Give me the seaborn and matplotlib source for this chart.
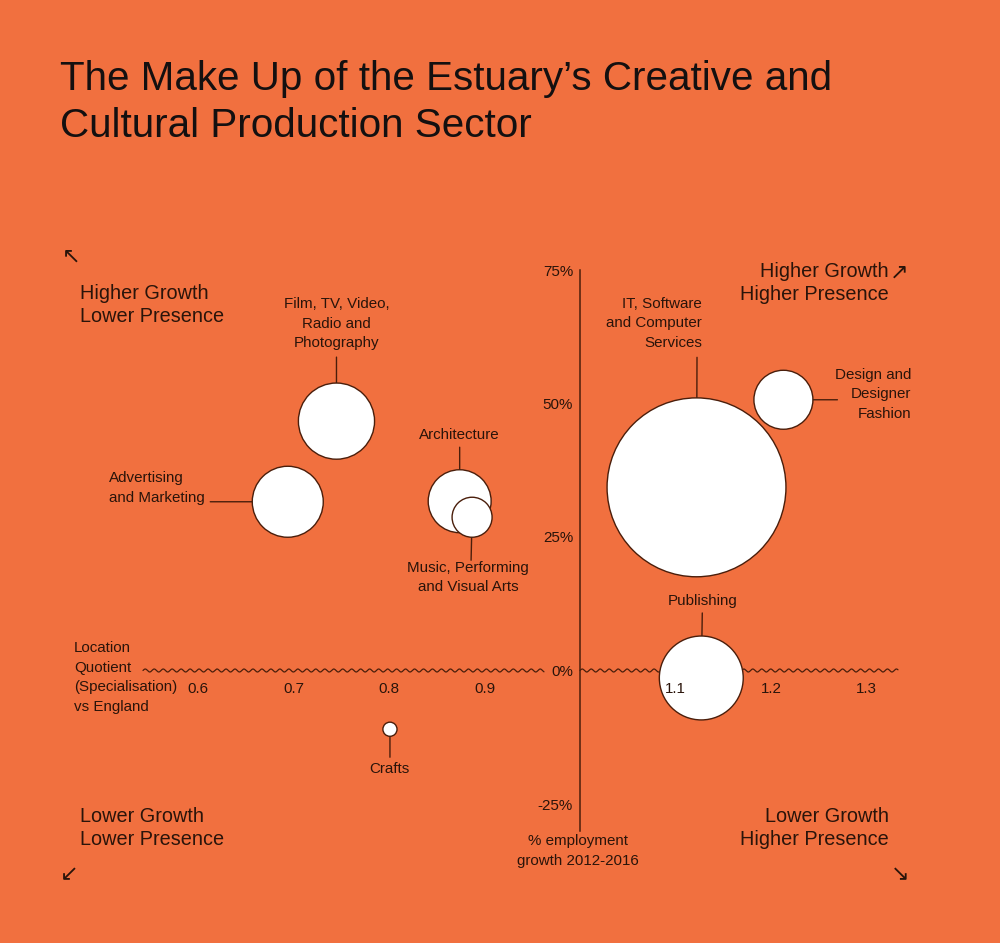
import numpy as np
import pandas as pd
import matplotlib
matplotlib.use("Agg")
import matplotlib.pyplot as plt
import seaborn as sns

# ---------------- data ----------------
categories = [
    "Film, TV, Video,\nRadio and\nPhotography",
    "Advertising\nand Marketing",
    "Architecture",
    "Music, Performing\nand Visual Arts",
    "IT, Software\nand Computer\nServices",
    "Design and\nDesigner\nFashion",
    "Publishing",
    "Crafts",
]
location_quotient = [0.745, 0.694, 0.874, 0.887, 1.122, 1.213, 1.127, 0.801]
employment_growth = [46.7, 31.6, 31.7, 28.7, 34.3, 50.7, -1.4, -11.0]
sector_size = [1450, 1260, 990, 400, 8000, 870, 1760, 50]

x_ticks = [0.6, 0.7, 0.8, 0.9, 1.1, 1.2, 1.3]
x_tick_labels = ["0.6", "0.7", "0.8", "0.9", "1.1", "1.2", "1.3"]
y_ticks = [-25, 0, 25, 50, 75]
y_tick_labels = ["-25%", "0%", "25%", "50%", "75%"]

# ---------------- style ----------------
BG = "#F1703F"
INK = "#2a140a"
LINE = "#4a1e0b"
TITLE = "#141010"

sns.set_style("white")
plt.rcParams["font.family"] = ["Liberation Sans", "DejaVu Sans"]

W, H, DPI = 1000, 943, 100
fig = plt.figure(figsize=(W / DPI, H / DPI), dpi=DPI, facecolor=BG)
ax = fig.add_axes([0, 0, 1, 1])
ax.set_facecolor(BG)

# axis limits so the origin (LQ 1.0, 0%) sits at the reference pixel position
px_per_x = 955.0
px_per_y = 5.34
ax.set_xlim(1.0 - 580 / px_per_x, 1.0 + 420 / px_per_x)
ax.set_ylim((670.5 - H) / px_per_y, 670.5 / px_per_y)

df = pd.DataFrame({
    "sector": categories,
    "lq": location_quotient,
    "growth": employment_growth,
    "size": sector_size,
})

SCALE = 2.0736  # marker area (pt^2) per size unit
smin, smax = min(sector_size), max(sector_size)
sns.scatterplot(data=df, x="lq", y="growth", size="size",
                sizes=(SCALE * smin, SCALE * smax), size_norm=(smin, smax),
                color="white", edgecolor=LINE, linewidth=1.0,
                legend=False, ax=ax, zorder=2)

# wavy horizontal axis (decorative)
def wave(x0, x1):
    xs = np.linspace(x0, x1, 1200)
    ys = 0.28 * np.sin(2 * np.pi * (xs - x0) / 0.0094)
    ax.plot(xs, ys, color=LINE, lw=0.9, zorder=0.5)

wave(1.0 - 437 / px_per_x, 1.0 - 36 / px_per_x)
wave(1.0, 1.0 + 318 / px_per_x)

# axes through the origin
for s in ["top", "right"]:
    ax.spines[s].set_visible(False)
ax.spines["left"].set_position(("data", 1.0))
ax.spines["left"].set_bounds(-30, 75)
ax.spines["left"].set_color(LINE)
ax.spines["left"].set_linewidth(1.1)
ax.spines["bottom"].set_position(("data", 0))
ax.spines["bottom"].set_color("none")
ax.set_axisbelow(False)

ax.set_xticks(x_ticks, x_tick_labels)
ax.set_yticks(y_ticks, y_tick_labels)
ax.tick_params(axis="x", length=0, pad=8, labelsize=10.9, labelcolor=INK)
ax.tick_params(axis="y", length=0, pad=5, labelsize=10.9, labelcolor=INK)
ax.set_xlabel("")
ax.set_ylabel("")

# ---------------- labels & leader lines ----------------
layout = {
    0: dict(t=(0, 74), ha="center", lead=(0, 64)),
    1: dict(t=(-178.5, 0), ha="left", lead=(-77.5, 0)),
    2: dict(t=(0, 62), ha="center", lead=(0, 54)),
    3: dict(t=(-4, -74), ha="center", lead=(-1, -43)),
    4: dict(t=(5.5, 140.5), ha="right", lead=(0.5, 130)),
    5: dict(t=(127.5, -18), ha="right", lead=(54, 0)),
    6: dict(t=(1, 73), ha="center", lead=(1, 65)),
    7: dict(t=(-1, -44), ha="center", lead=(0, -28)),
}
for i, row in df.iterrows():
    L = layout[i]
    r_pt = np.sqrt(SCALE * row["size"]) / 2
    ax.annotate("", xy=(row["lq"], row["growth"]), xytext=L["lead"],
                textcoords="offset pixels",
                arrowprops=dict(arrowstyle="-", color=LINE, lw=1.0,
                                shrinkA=0, shrinkB=r_pt), zorder=1)
    ax.annotate(row["sector"], xy=(row["lq"], row["growth"]), xytext=L["t"],
                textcoords="offset pixels", ha=L["ha"], va="baseline",
                multialignment=L["ha"], fontsize=10.9, color=INK,
                linespacing=1.5, zorder=3)

def ftext(x, y, s, **kw):
    fig.text(x / W, 1 - y / H, s, **kw)

# title
ftext(60, 137, "The Make Up of the Estuary\u2019s Creative and\nCultural Production Sector",
      fontsize=29.1, color=TITLE, ha="left", va="baseline", linespacing=1.3)

# quadrant labels
qkw = dict(fontsize=14.3, color=INK, va="baseline", linespacing=1.25)
ftext(80, 322, "Higher Growth\nLower Presence", ha="left", **qkw)
ftext(889, 300, "Higher Growth\nHigher Presence", ha="right", multialignment="right", **qkw)
ftext(80, 845, "Lower Growth\nLower Presence", ha="left", **qkw)
ftext(889, 845, "Lower Growth\nHigher Presence", ha="right", multialignment="right", **qkw)

akw = dict(fontsize=16, color=INK, ha="center", va="center", family="DejaVu Sans")
ftext(71, 257, "\u2196", **akw)
ftext(899.5, 273, "\u2197", **akw)
ftext(69.5, 874.5, "\u2199", **akw)
ftext(900, 874.5, "\u2198", **akw)

# axis titles
ftext(74, 711, "Location\nQuotient\n(Specialisation)\nvs England", ha="left",
      va="baseline", fontsize=10.9, color=INK, linespacing=1.5)
ftext(578, 865, "% employment\ngrowth 2012-2016", ha="center", va="baseline",
      fontsize=10.9, color=INK, linespacing=1.5)

fig.savefig("out.png", dpi=DPI, facecolor=BG)
